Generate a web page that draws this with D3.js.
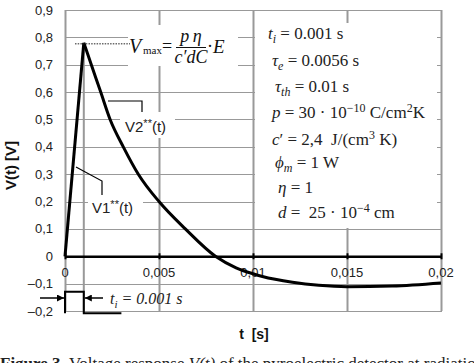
<!DOCTYPE html>
<html>
<head>
<meta charset="utf-8">
<script src="https://cdn.jsdelivr.net/npm/d3@7"></script>
<style>
  body { margin: 0; background: #fff; overflow: hidden; }
  svg { display: block; }
  svg text { font-family: "Liberation Sans", Arial, sans-serif; }
  svg .serif { font-family: "Liberation Serif", "Times New Roman", serif; }
</style>
</head>
<body>
<svg width="474" height="363"></svg>
<script>
// pulse-on phase V1**(t) and decay phase V2**(t)
var riseTime = [0, 0.001];
var riseVolt = [0, 0.78];
var decayTime = [0.001, 0.0014, 0.0019, 0.0024, 0.0031, 0.0039, 0.005, 0.0064, 0.008, 0.0091, 0.01, 0.0105, 0.0121, 0.0135, 0.015, 0.0174, 0.02];
var decayVolt = [0.78, 0.70, 0.60, 0.50, 0.40, 0.30, 0.20, 0.10, 0, -0.042, -0.064, -0.074, -0.095, -0.106, -0.111, -0.109, -0.098];

// sketch of the radiation pulse under the axis
var pulseTime = [0, 0, 0.001, 0.001, 0.003];
var pulseVolt = [-0.208, -0.13, -0.13, -0.208, -0.208];

var xTicks = [0, 0.005, 0.01, 0.015, 0.02];
var xTickLabels = ["0", "0,005", "0,01", "0,015", "0,02"];
var yTicks = [-0.2, -0.1, 0, 0.1, 0.2, 0.3, 0.4, 0.5, 0.6, 0.7, 0.8, 0.9];
var yTickLabels = ["\u20130,2", "\u20130,1", "0", "0,1", "0,2", "0,3", "0,4", "0,5", "0,6", "0,7", "0,8", "0,9"];

var paramLines = [
  [["t", "i"], ["i", "sub"], [" = 0.001 s", ""]],
  [["\u03c4", "i"], ["e", "sub"], [" = 0.0056 s", ""]],
  [["\u03c4", "i"], ["th", "sub"], [" = 0.01 s", ""]],
  [["p", "i"], [" = 30 \u00b7 10", ""], ["\u221210", "sup"], [" C/cm", ""], ["2", "sup"], ["K", ""]],
  [["c", "i"], ["\u2032 = 2,4  J/(cm", ""], ["3", "sup"], [" K)", ""]],
  [["\u03d5", "i"], ["m", "sub"], [" = 1 W", ""]],
  [["\u03b7", "i"], [" = 1", ""]],
  [["d", "i"], [" =  25 \u00b7 10", ""], ["\u22124", "sup"], [" cm", ""]]
];

var svg = d3.select("svg"),
  margin = { top: 10, right: 33, bottom: 52, left: 65 },
  width = +svg.attr("width") - margin.left - margin.right,
  height = +svg.attr("height") - margin.top - margin.bottom;

var x = d3.scaleLinear().domain([0, 0.02]).range([margin.left, margin.left + width]);
var y = d3.scaleLinear().domain([-0.2, 0.9]).range([margin.top + height, margin.top]);

var grid = "#999";

// grid
svg.append("g")
  .attr("transform", "translate(" + margin.left + ",0)")
  .call(d3.axisLeft(y).tickValues(yTicks).tickSize(-width).tickFormat(""))
  .call(function (g) {
    g.select(".domain").remove();
    g.selectAll("line").attr("stroke", grid).attr("shape-rendering", "crispEdges");
  });

svg.append("g")
  .attr("transform", "translate(0," + margin.top + ")")
  .call(d3.axisBottom(x).tickValues(xTicks).tickSize(height).tickFormat(""))
  .call(function (g) {
    g.select(".domain").remove();
    g.selectAll("line").attr("stroke", grid).attr("stroke-width", 2);
  });

svg.append("rect")
  .attr("x", margin.left + 0.5).attr("y", margin.top + 0.5)
  .attr("width", width).attr("height", height)
  .attr("fill", "none").attr("stroke", grid);

// drop line at the end of the pulse
svg.append("line")
  .attr("x1", x(riseTime[1])).attr("x2", x(riseTime[1]))
  .attr("y1", y(riseVolt[1])).attr("y2", y(-0.208))
  .attr("stroke", grid).attr("stroke-width", 2);

// white boxes behind the annotations
var boxes = [[128, 25, 110, 41], [255, 23, 182, 205], [120, 112, 55, 26], [88, 196, 55, 20]];
svg.selectAll(".box")
  .data(boxes)
  .enter().append("rect")
  .attr("class", "box")
  .attr("x", function (d) { return d[0]; })
  .attr("y", function (d) { return d[1]; })
  .attr("width", function (d) { return d[2]; })
  .attr("height", function (d) { return d[3]; })
  .attr("fill", "#fff");

// zero axis
svg.append("g")
  .attr("transform", "translate(0," + y(0) + ")")
  .call(d3.axisBottom(x).tickValues(xTicks).tickSize(3).tickSizeOuter(0).tickFormat(""))
  .call(function (g) {
    g.select(".domain").attr("stroke", "#000").attr("stroke-width", 2.5);
    g.selectAll("line").attr("stroke", "#000").attr("stroke-width", 2).attr("y1", -3);
  });

// tick labels
svg.selectAll(".ylab")
  .data(yTicks)
  .enter().append("text")
  .attr("class", "ylab")
  .attr("x", 53)
  .attr("y", function (d) { return y(d) + 4.5; })
  .attr("text-anchor", "end")
  .attr("font-size", 13)
  .attr("fill", "#222")
  .text(function (d, i) { return yTickLabels[i]; });

svg.selectAll(".xlab")
  .data(xTicks)
  .enter().append("text")
  .attr("class", "xlab")
  .attr("x", function (d) { return x(d); })
  .attr("y", y(0) + 21)
  .attr("text-anchor", "middle")
  .attr("font-size", 13)
  .attr("fill", "#222")
  .text(function (d, i) { return xTickLabels[i]; });

// axis titles
svg.append("text")
  .attr("transform", "translate(16," + (margin.top + height / 2 + 5) + ") rotate(-90)")
  .attr("text-anchor", "middle")
  .attr("font-size", 15)
  .attr("font-weight", "bold")
  .attr("fill", "#111")
  .text("V(t) [V]");

svg.append("text")
  .attr("x", 254).attr("y", 339)
  .attr("text-anchor", "middle")
  .attr("font-size", 14)
  .attr("font-weight", "bold")
  .attr("fill", "#111")
  .style("white-space", "pre")
  .text("t  [s]");

// curves
var rise = d3.line()
  .x(function (d) { return x(d[0]); })
  .y(function (d) { return y(d[1]); });
var decay = d3.line()
  .x(function (d) { return x(d[0]); })
  .y(function (d) { return y(d[1]); })
  .curve(d3.curveMonotoneX);

svg.append("path")
  .attr("d", rise(d3.zip(riseTime, riseVolt)))
  .attr("fill", "none").attr("stroke", "#000").attr("stroke-width", 3).attr("stroke-linejoin", "round");
svg.append("path")
  .attr("d", decay(d3.zip(decayTime, decayVolt)))
  .attr("fill", "none").attr("stroke", "#000").attr("stroke-width", 3).attr("stroke-linejoin", "round");

// pulse
svg.append("path")
  .attr("d", rise(d3.zip(pulseTime, pulseVolt)))
  .attr("fill", "none").attr("stroke", "#000").attr("stroke-width", 2);

svg.append("defs").append("marker")
  .attr("id", "arr")
  .attr("viewBox", "0 0 10 10")
  .attr("refX", 10).attr("refY", 5)
  .attr("markerWidth", 7).attr("markerHeight", 7)
  .attr("markerUnits", "userSpaceOnUse")
  .attr("orient", "auto")
  .append("path").attr("d", "M0,0L10,5L0,10z").attr("fill", "#000");

var ay = 298;
svg.append("line")
  .attr("x1", 40).attr("x2", x(0) - 1).attr("y1", ay).attr("y2", ay)
  .attr("stroke", "#000").attr("stroke-width", 1.5).attr("marker-end", "url(#arr)");
svg.append("line")
  .attr("x1", 103).attr("x2", x(0.001) + 1).attr("y1", ay).attr("y2", ay)
  .attr("stroke", "#000").attr("stroke-width", 1.5).attr("marker-end", "url(#arr)");

var ti = svg.append("text").attr("class", "serif")
  .attr("x", 110).attr("y", 304).attr("font-size", 16).attr("font-style", "italic").attr("fill", "#222");
ti.append("tspan").text("t");
ti.append("tspan").attr("dy", 4).attr("font-size", 11).text("i");
ti.append("tspan").attr("dy", -4).text(" = 0.001 s");

// Vmax formula
svg.append("line")
  .attr("x1", 75).attr("x2", 130).attr("y1", y(riseVolt[1]) + 1).attr("y2", y(riseVolt[1]) + 1)
  .attr("stroke", "#222").attr("stroke-dasharray", "1.5,1.2");

var f = svg.append("g").attr("class", "formula").attr("fill", "#111");
f.append("text").attr("class", "serif").attr("x", 129).attr("y", 53)
  .attr("font-size", 20).attr("font-style", "italic").text("V");
f.append("text").attr("class", "serif").attr("x", 143).attr("y", 54)
  .attr("font-size", 11).text("max");
f.append("text").attr("class", "serif").attr("x", 162).attr("y", 52)
  .attr("font-size", 18).text("=");
f.append("text").attr("class", "serif").attr("x", 191).attr("y", 42)
  .attr("text-anchor", "middle").attr("font-size", 18).attr("font-style", "italic").text("p\u2009\u03b7");
f.append("line").attr("x1", 176).attr("x2", 206).attr("y1", 47.5).attr("y2", 47.5)
  .attr("stroke", "#111").attr("stroke-width", 1);
f.append("text").attr("class", "serif").attr("x", 191).attr("y", 63)
  .attr("text-anchor", "middle").attr("font-size", 18).attr("font-style", "italic").text("c\u2032dC");
f.append("text").attr("class", "serif").attr("x", 207).attr("y", 52)
  .attr("font-size", 18).text("\u00b7");
f.append("text").attr("class", "serif").attr("x", 213).attr("y", 53)
  .attr("font-size", 19).attr("font-style", "italic").text("E");

// parameter block
var baseY = [39, 66, 92, 118, 145, 168, 193, 218];
var startX = [268, 272, 275, 272, 272, 275, 278, 278];
paramLines.forEach(function (parts, i) {
  var t = svg.append("text").attr("class", "serif")
    .attr("x", startX[i]).attr("y", baseY[i])
    .attr("font-size", 17).attr("fill", "#222")
    .style("white-space", "pre");
  var shift = 0;
  parts.forEach(function (p) {
    var s = t.append("tspan").text(p[0]);
    var want = p[1] === "sub" ? 4 : p[1] === "sup" ? -6 : 0;
    if (want !== shift) { s.attr("dy", want - shift); shift = want; }
    if (p[1] === "i") s.attr("font-style", "italic");
    if (p[1] === "sub") s.attr("font-style", "italic").attr("font-size", 12);
    if (p[1] === "sup") s.attr("font-size", 12);
  });
});

// curve labels with leader lines
function curveLabel(lx, ly, num, pts) {
  svg.append("path")
    .attr("d", d3.line()(pts))
    .attr("fill", "none").attr("stroke", "#000").attr("stroke-width", 1.2);
  var t = svg.append("text").attr("x", lx).attr("y", ly).attr("font-size", 15).attr("fill", "#222");
  t.append("tspan").text("V" + num);
  t.append("tspan").attr("dy", -5).attr("font-size", 11).text("**");
  t.append("tspan").attr("dy", 5).text("(t)");
}
curveLabel(125, 132, "2", [[108, 101], [142, 101], [142, 112]]);
curveLabel(92, 213, "1", [[76, 167], [102, 181], [102, 195]]);

// caption, cut off at the bottom edge as in the source page
var cap = svg.append("text").attr("class", "serif")
  .attr("x", 0).attr("y", 369).attr("font-size", 17).attr("fill", "#222");
cap.append("tspan").attr("font-weight", "bold").text("Figure 3. ");
cap.append("tspan").text("Voltage response ");
cap.append("tspan").attr("font-style", "italic").text("V(t)");
cap.append("tspan").text(" of the pyroelectric detector at radiation");
</script>
</body>
</html>
